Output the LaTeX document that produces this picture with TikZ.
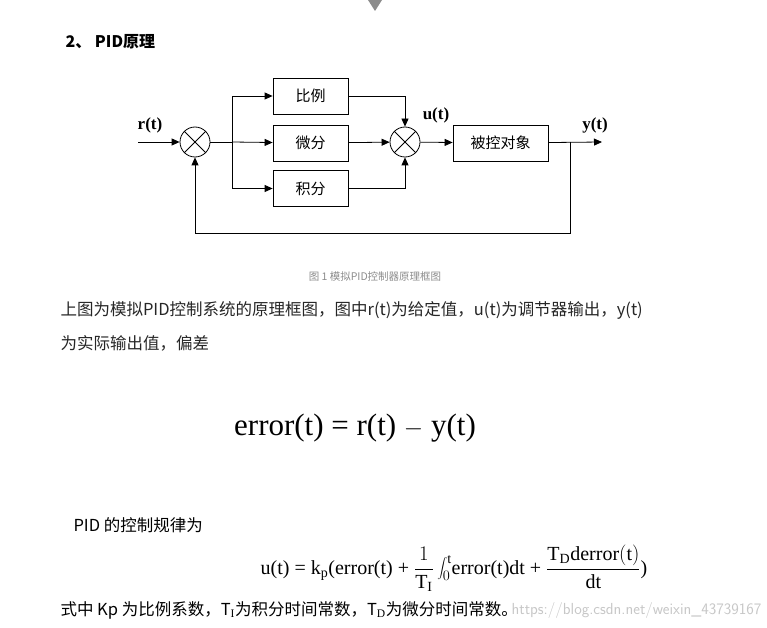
\documentclass[tikz,border=0pt]{standalone}
\usepackage{fontspec}
\setmainfont{Liberation Serif}
\newfontfamily\cjk{Noto Sans CJK SC}
\usetikzlibrary{arrows.meta}
\begin{document}
\begin{tikzpicture}[x=1pt,y=-1pt,
  blk/.style={draw,line width=0.8pt,minimum width=75pt,minimum height=36pt,inner sep=0pt,font=\cjk\fontsize{15}{17}\selectfont},
  sumc/.style={draw,line width=0.8pt,circle,minimum size=30pt,inner sep=0pt},
  ln/.style={line width=0.8pt},
  arr/.style={line width=0.8pt,-{Triangle[length=8pt,width=7pt]}},
  lbl/.style={font=\bfseries\fontsize{17}{19}\selectfont},
  txt/.style={anchor=west,font=\cjk\fontsize{16.5}{19}\selectfont,text=black!85}]
\useasboundingbox (0,0) rectangle (767,628);
\fill[black!45] (368,0) -- (382,0) -- (375,11) -- cycle;
\node[anchor=west,font=\cjk\bfseries\fontsize{16}{18}\selectfont] (title) at (62,42) {2、 PID原理};
% diagram
\node[sumc] (s1) at (195,142) {};
\node[sumc] (s2) at (405,142) {};
\foreach \s in {s1,s2}{\draw[ln] (\s.north west) -- (\s.south east) (\s.north east) -- (\s.south west);}
\node[blk] (p) at (310.5,96) {比例};
\node[blk] (d) at (310.5,143) {微分};
\node[blk] (i) at (310.5,188.5) {积分};
\node[blk,minimum width=95pt] (g) at (500.5,143) {被控对象};
\coordinate (in) at (138,142);
\coordinate (br) at (232,142);
\coordinate (tap) at (570,142);
\coordinate (out) at (602,142);
\coordinate (fb) at (570,233);
\draw[arr] (in) -- (s1);
\draw[ln] (s1) -- (br);
\draw[arr] (br) -- (d);
\draw[arr] (br) |- (p);
\draw[arr] (br) |- (i);
\draw[arr] (p) -| (s2);
\draw[arr] (d) -- (s2);
\draw[arr] (i) -| (s2);
\draw[arr] (s2) -- (g);
\draw[arr] (g) -- (out);
\draw[arr] (tap) -- (fb) -| (s1);
\node[lbl] (rl) at (150,125) {r(t)};
\node[lbl] (ul) at (436,115) {u(t)};
\node[lbl] (yl) at (595,125) {y(t)};
\node[font=\cjk\fontsize{10.5}{12}\selectfont,text=black!45] (cap) at (375,276) {图 1 模拟PID控制器原理框图};
\node[txt] (t1) at (57,310) {上图为模拟PID控制系统的原理框图，图中r(t)为给定值，u(t)为调节器输出，y(t)};
\node[txt] (t2) at (57,343) {为实际输出值，偏差};
\node[font=\fontsize{31}{34}\selectfont] (e1) at (355,428) {error(t) = r(t) $-$ y(t)};
\node[txt,text=black] (t3) at (70,525) {PID 的控制规律为};
\node[font=\fontsize{20}{22}\selectfont] (e2) at (454,568) {u(t) = k$_{\mathrm p}$(error(t) + $\displaystyle\frac{1}{\mathrm{T_I}}\int_0^{\mathrm t}$error(t)dt + $\displaystyle\frac{\mathrm{T_D derror(t)}}{\mathrm{dt}}$)};
\node[anchor=east,font=\sffamily\fontsize{16}{18}\selectfont,text=black!22] (wm) at (765,610) {https://blog.csdn.net/weixin\_43739167};
\node[txt,text=black] (t4) at (57,610) {式中 Kp 为比例系数，T$_\mathrm{I}$为积分时间常数，T$_\mathrm{D}$为微分时间常数。};
\end{tikzpicture}
\end{document}
